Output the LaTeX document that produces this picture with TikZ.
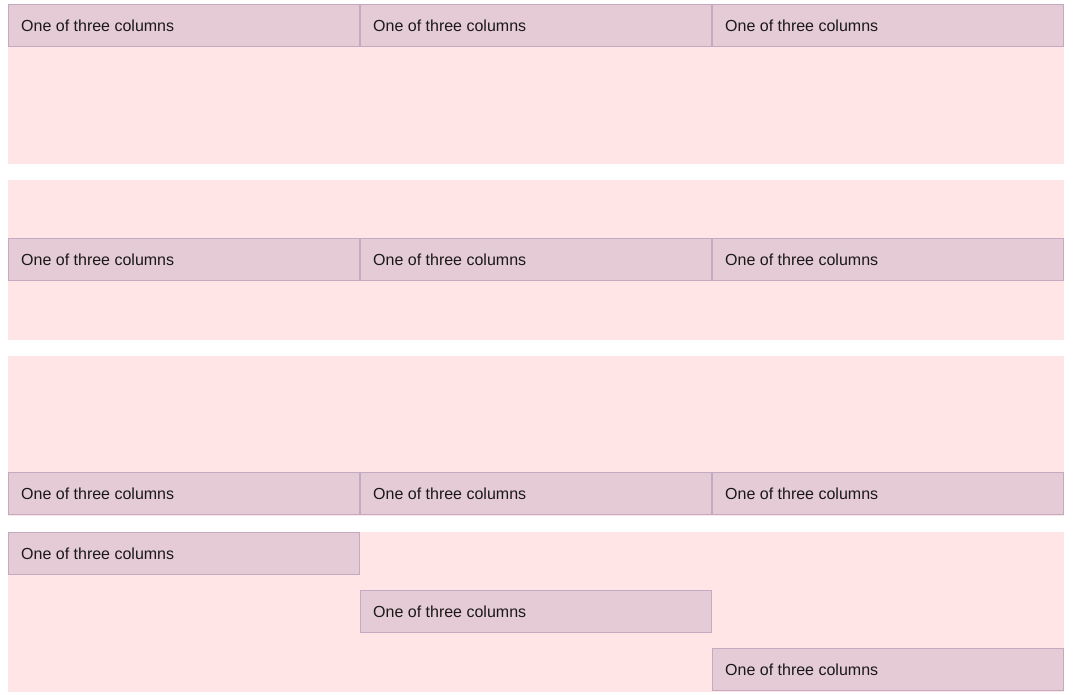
\documentclass[tikz,border=0pt]{standalone}
\usepackage{fontspec}
\setmainfont{Liberation Sans}
\definecolor{rowbg}{RGB}{255,229,229}
\definecolor{colbg}{RGB}{229,203,213}
\definecolor{colbd}{RGB}{196,170,192}
\tikzset{
  rowbox/.style={fill=rowbg, draw=none, anchor=north west, minimum width=1056pt, minimum height=160pt, inner sep=0pt, outer sep=0pt},
  colbox/.style={fill=colbg, draw=colbd, line width=1pt, anchor=north west, minimum width=351pt, minimum height=42pt, inner sep=0pt, outer sep=0pt, font=\fontsize{16pt}{19pt}\selectfont},
}
\newcommand{\cellat}[3]{%
  \node[colbox] (#1) at (#2,#3) {};
  \node[anchor=west, inner sep=0pt, font=\fontsize{16pt}{19pt}\selectfont, text=black!90] (#1t) at ([xshift=12.5pt]#1.west) {One of three columns};
}
\begin{document}
\begin{tikzpicture}[x=1pt,y=-1pt]
\useasboundingbox[fill=white] (0,0) rectangle (1073,695);
\node[rowbox] (r1) at (8,4) {};
\node[rowbox] (r2) at (8,180) {};
\node[rowbox] (r3) at (8,356) {};
\node[rowbox] (r4) at (8,532) {};
% row 1: top
\cellat{a1}{8.5}{4.5}
\cellat{a2}{360.5}{4.5}
\cellat{a3}{712.5}{4.5}
% row 2: middle
\cellat{b1}{8.5}{238.5}
\cellat{b2}{360.5}{238.5}
\cellat{b3}{712.5}{238.5}
% row 3: bottom
\cellat{c1}{8.5}{472.5}
\cellat{c2}{360.5}{472.5}
\cellat{c3}{712.5}{472.5}
% row 4: staggered
\cellat{d1}{8.5}{532.5}
\cellat{d2}{360.5}{590.5}
\cellat{d3}{712.5}{648.5}
\end{tikzpicture}
\end{document}
